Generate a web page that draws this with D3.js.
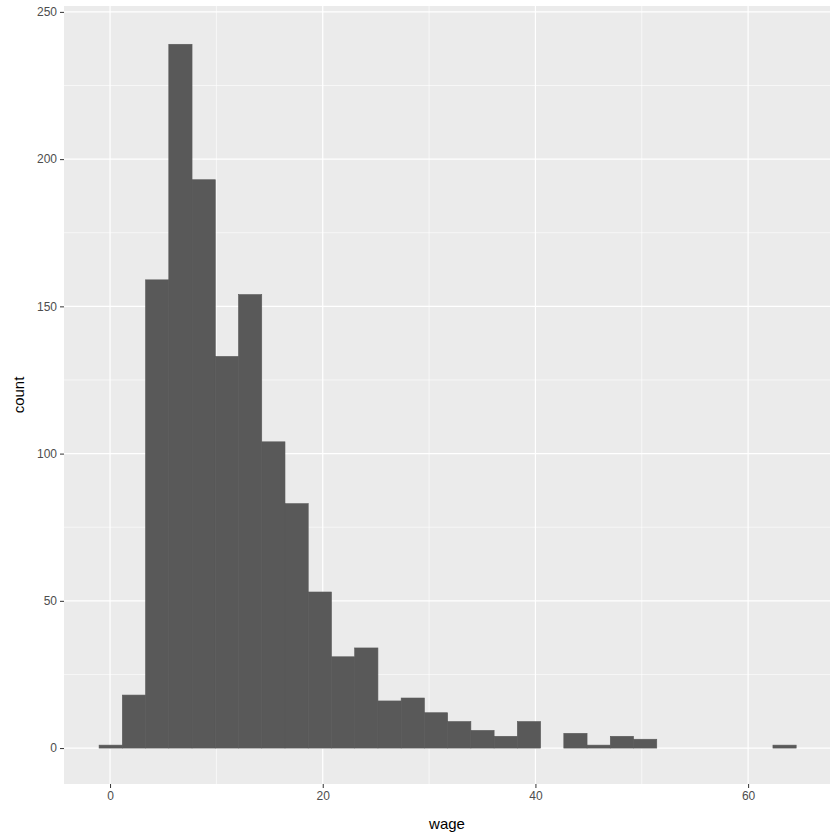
<!DOCTYPE html>
<html><head><script src="https://cdn.jsdelivr.net/npm/d3@7"></script>
<style>body{margin:0;background:#fff}</style></head><body>
<script>
const binStart = -1.03;
const binWidth = 2.185;
const counts = [1,18,159,239,193,133,154,104,83,53,31,34,16,17,12,9,6,4,9,0,5,1,4,3,0,0,0,0,0,1];
const xTicks = [0,20,40,60];
const yTicks = [0,50,100,150,200,250];

const W=840,H=840, L=64, R=830, T=6, B=784;
const svg=d3.select("body").append("svg").attr("width",W).attr("height",H).style("font-family","Arial, Liberation Sans, sans-serif");
const x=d3.scaleLinear().domain([-4.33,67.7]).range([L,R]);
const y=d3.scaleLinear().domain([-12.2,252]).range([B,T]);
svg.append("rect").attr("x",L).attr("y",T).attr("width",R-L).attr("height",B-T).attr("fill","#EBEBEB");
const g=svg.append("g");
[10,30,50].forEach(v=>g.append("line").attr("x1",x(v)).attr("x2",x(v)).attr("y1",T).attr("y2",B).attr("stroke","#fff").attr("stroke-width",0.6));
[25,75,125,175,225].forEach(v=>g.append("line").attr("y1",y(v)).attr("y2",y(v)).attr("x1",L).attr("x2",R).attr("stroke","#fff").attr("stroke-width",0.6));
xTicks.forEach(v=>g.append("line").attr("x1",x(v)).attr("x2",x(v)).attr("y1",T).attr("y2",B).attr("stroke","#fff").attr("stroke-width",1.2));
yTicks.forEach(v=>g.append("line").attr("y1",y(v)).attr("y2",y(v)).attr("x1",L).attr("x2",R).attr("stroke","#fff").attr("stroke-width",1.2));
svg.selectAll(".bar").data(counts).enter().append("rect")
 .attr("x",(d,i)=>x(binStart+i*binWidth)).attr("width",(d,i)=>x(binStart+(i+1)*binWidth)-x(binStart+i*binWidth))
 .attr("y",d=>y(d)).attr("height",d=>y(0)-y(d)).attr("fill","#595959")
 .attr("stroke",d=>d>0?"#595959":"none").attr("stroke-width",0.6);
const ax=svg.append("g").attr("transform",`translate(0,${B})`).call(d3.axisBottom(x).tickValues(xTicks).tickSize(4).tickPadding(3));
const ay=svg.append("g").attr("transform",`translate(${L},0)`).call(d3.axisLeft(y).tickValues(yTicks).tickSize(4).tickPadding(3));
[ax,ay].forEach(a=>{a.select(".domain").remove();a.selectAll("line").attr("stroke","#333");a.selectAll("text").attr("fill","#4D4D4D").style("font-size","12px");});
svg.append("text").attr("x",(L+R)/2).attr("y",829).attr("text-anchor","middle").style("font-size","15px").text("wage");
svg.append("text").attr("transform",`translate(24,${(T+B)/2}) rotate(-90)`).attr("text-anchor","middle").style("font-size","15px").text("count");
</script></body></html>
